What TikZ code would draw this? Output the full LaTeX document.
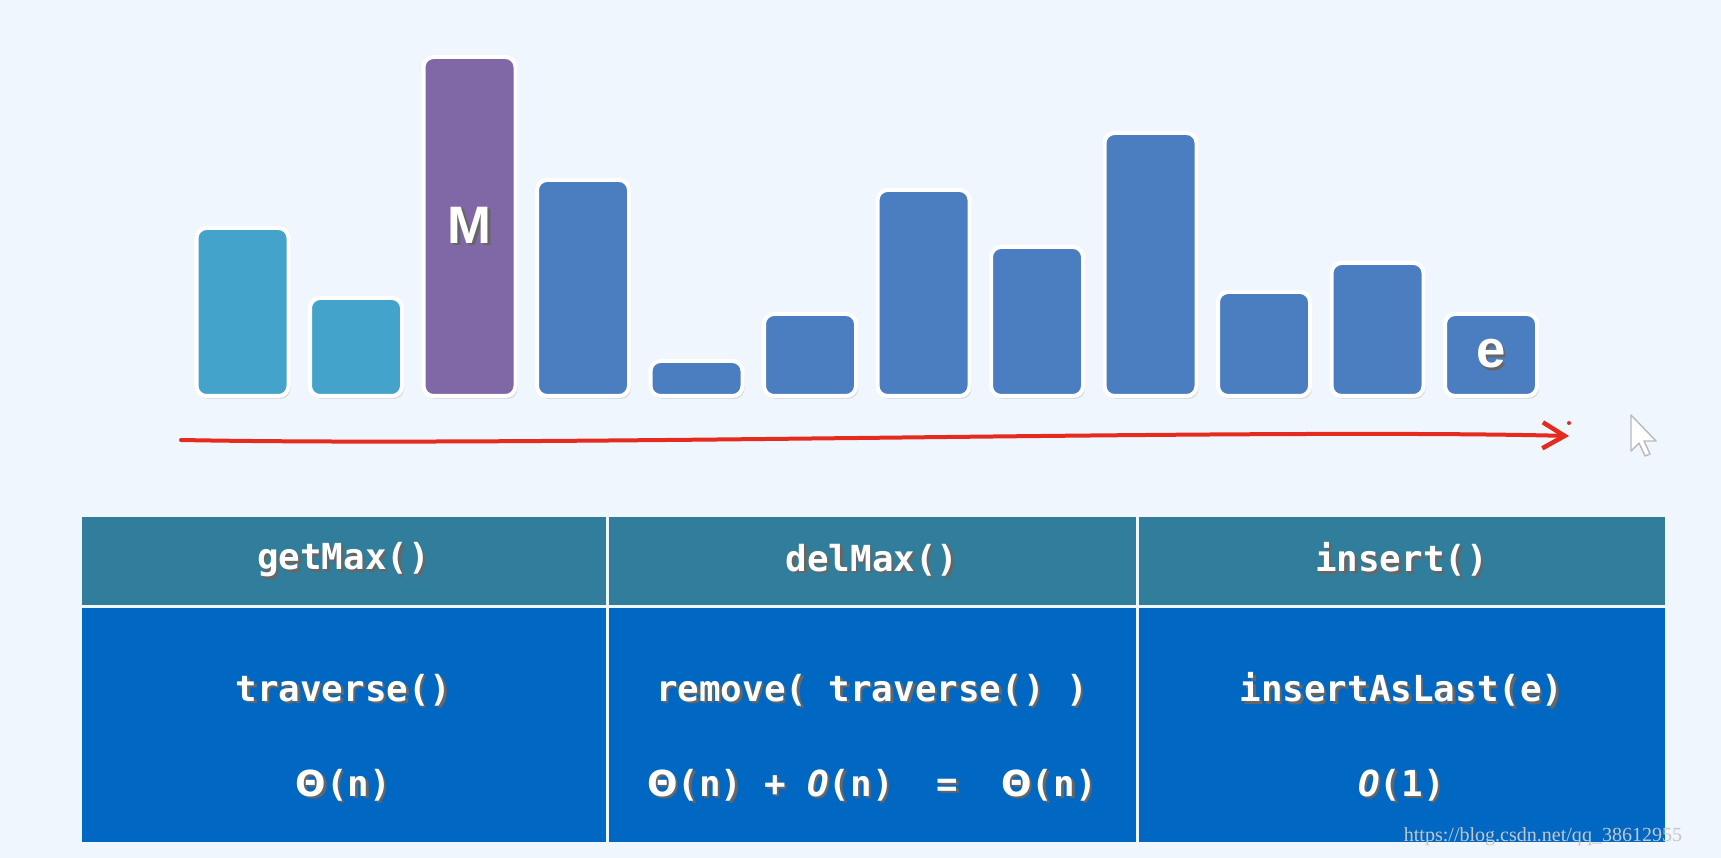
\documentclass[tikz,border=0pt]{standalone}
\usepackage{fontspec}
\setmainfont{Liberation Sans}
\newfontfamily\codefont{DejaVu Sans Mono}
\newfontfamily\thetafont{DejaVu Sans}
\newfontfamily\wmfont{Liberation Serif}
\usetikzlibrary{arrows.meta,shadows}

\definecolor{pagebg}{HTML}{F0F6FE}
\definecolor{barteal}{HTML}{43A3CB}
\definecolor{barpurple}{HTML}{8067A6}
\definecolor{barblue}{HTML}{4A7EC0}
\definecolor{headteal}{HTML}{307E9B}
\definecolor{bodyblue}{HTML}{0068C3}
\definecolor{tracered}{HTML}{E42B1E}

\def\shadowed#1{\makebox[0pt][l]{\hspace{0.7pt}\raisebox{-0.7pt}{\color{black!60}#1}}#1}
\def\Th{{\thetafont Θ}}

\tikzset{
	bar/.style={draw=white, line width=0.04cm, rounded corners=0.1cm, minimum width=0.92cm, anchor=south, inner sep=0pt,
		drop shadow={shadow xshift=0.02cm, shadow yshift=-0.03cm, opacity=0.2}, text=white, font=\fontsize{15}{15}\selectfont\bfseries},
	hcell/.style={fill=headteal, minimum height=0.88cm, inner sep=0pt, text=white, font=\fontsize{10.2}{12}\selectfont\codefont\bfseries},
	bcell/.style={fill=bodyblue, minimum height=2.34cm, inner sep=0pt},
	celltext/.style={inner sep=0pt, text=white, font=\fontsize{10.2}{12}\selectfont\codefont\bfseries},
	trace/.style={draw=tracered, line width=0.04cm, line cap=round, -{Straight Barb[length=0.22cm, width=0.26cm, line width=0.045cm]}},
	cursor/.style={draw=gray!55, fill=white, line width=0.4pt, line join=round}
}

\begin{document}
\begin{tikzpicture}
			%%%%% START %%%%%
			
			\fill[pagebg] (0, 0) rectangle (17.21, -8.58);
			\useasboundingbox (0, 0) rectangle (17.21, -8.58);
			
			% bars
			\node[bar, fill=barteal, minimum height=1.68cm] (b1) at (2.425, -3.98) {};
			\node[bar, fill=barteal, minimum height=0.98cm] (b2) at (3.56, -3.98) {};
			\node[bar, fill=barpurple, minimum height=3.39cm] (b3) at (4.695, -3.98) {\shadowed{M}};
			\node[bar, fill=barblue, minimum height=2.16cm] (b4) at (5.83, -3.98) {};
			\node[bar, fill=barblue, minimum height=0.35cm] (b5) at (6.965, -3.98) {};
			\node[bar, fill=barblue, minimum height=0.82cm] (b6) at (8.10, -3.98) {};
			\node[bar, fill=barblue, minimum height=2.06cm] (b7) at (9.235, -3.98) {};
			\node[bar, fill=barblue, minimum height=1.49cm] (b8) at (10.37, -3.98) {};
			\node[bar, fill=barblue, minimum height=2.63cm] (b9) at (11.505, -3.98) {};
			\node[bar, fill=barblue, minimum height=1.04cm] (b10) at (12.64, -3.98) {};
			\node[bar, fill=barblue, minimum height=1.33cm] (b11) at (13.775, -3.98) {};
			\node[bar, fill=barblue, minimum height=0.82cm] (b12) at (14.91, -3.98) {\shadowed{e}};
			
			% red stroke under the bars
			\coordinate (trS) at (1.81, -4.40);
			\coordinate (trE) at (15.69, -4.36);
			\draw[trace] (trS) .. controls (5.5, -4.47) and (12.5, -4.28) .. (trE);
			\fill[tracered] (15.69, -4.23) circle (0.02);
			
			% mouse pointer
			\coordinate (cur) at (16.31, -4.15);
			\draw[cursor] (cur) -- ++(0, -0.36) -- ++(0.08, 0.08) -- ++(0.06, -0.13) -- ++(0.05, 0.02) -- ++(-0.06, 0.13) -- ++(0.12, 0) -- cycle;
			
			% table
			\node[hcell, minimum width=5.24cm] (hd1) at (3.435, -5.61) {\shadowed{getMax()}};
			\node[hcell, minimum width=5.27cm] (hd2) at (8.72, -5.61) {\shadowed{delMax()}};
			\node[hcell, minimum width=5.26cm] (hd3) at (14.015, -5.61) {\shadowed{insert()}};
			
			\node[bcell, minimum width=5.24cm] (bd1) at (3.435, -7.25) {};
			\node[bcell, minimum width=5.27cm] (bd2) at (8.72, -7.25) {};
			\node[bcell, minimum width=5.26cm] (bd3) at (14.015, -7.25) {};
			
			\node[celltext] (op1) at (3.435, -6.91) {\shadowed{traverse()}};
			\node[celltext] (op2) at (8.72, -6.91) {\shadowed{remove( traverse() )}};
			\node[celltext] (op3) at (14.015, -6.91) {\shadowed{insertAsLast(e)}};
			
			\node[celltext] (cx1) at (3.435, -7.86) {\shadowed{\Th(n)}};
			\node[celltext] (cx2) at (8.72, -7.86) {\shadowed{\Th(n) + \textit{O}(n)\ \ =\ \ \Th(n)}};
			\node[celltext] (cx3) at (14.015, -7.86) {\shadowed{\textit{O}(1)}};
			
			% watermark
			\node[inner sep=0pt, text=gray!45, font=\fontsize{5.7}{6}\selectfont\wmfont] (wm) at (15.43, -8.37) {https://blog.csdn.net/qq\_38612955};
			
			%%%%% END %%%%%
		\end{tikzpicture}
\end{document}
